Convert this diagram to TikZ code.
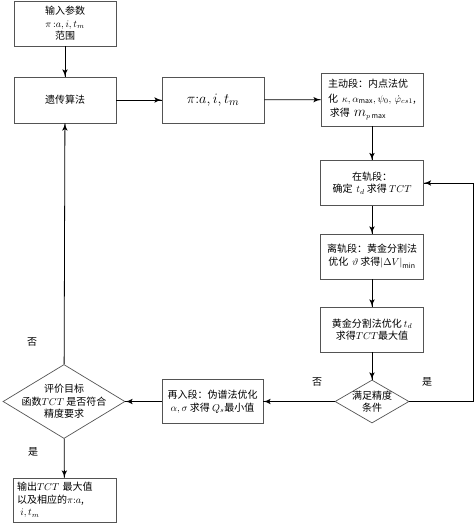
\documentclass[tikz,border=0pt]{standalone}
\usepackage{amsmath}
\usepackage{fontspec}
\setmainfont{Noto Sans CJK SC}
\usepackage{tikz}
\usetikzlibrary{arrows}
\usetikzlibrary{decorations.markings}
\usetikzlibrary{shapes.geometric}
\tikzset{->/.style = {decoration={markings,
                                  mark=at position 1 with {\arrow[scale=1.4]{latex'}}},
                      postaction={decorate}}}
\tikzset{stage/.style = {draw=frame, line width=0.7pt, align=center, inner sep=1pt}}
\tikzset{decision/.style = {shape=diamond, draw=frame, line width=0.7pt, inner sep=0pt}}
\definecolor{frame}{rgb}{0.33, 0.33, 0.33}

\begin{document}
\begin{tikzpicture}[x=1pt, y=-1pt, font=\fontsize{10}{12.5}\selectfont, line width=0.8pt]
      \useasboundingbox (0, 0) rectangle (474, 526);

      \node [stage, minimum width=102, minimum height=45] (input) at (65, 23.5)
            {输入参数\\$\pi\,{:}a,i,t_m$\\范围};
      \node [stage, minimum width=102, minimum height=46] (ga) at (65, 100) {遗传算法};
      \node [stage, minimum width=102, minimum height=46, font=\fontsize{15}{18}\selectfont]
            (params) at (213, 100) {$\pi{:}a,i,t_m$};
      \node [stage, minimum width=102, minimum height=53, align=left,
             font=\fontsize{10}{14.5}\selectfont] (ascent) at (372, 99.5)
            {主动段：内点法优\\化\, $\kappa,\alpha_{\max},\psi_0,\,\dot{\varphi}_{cs1}$,\\
             \,求得\, $\text{\Large$m$}_{p\max}$};
      \node [stage, minimum width=103, minimum height=45] (orbit) at (372, 183)
            {在轨段：\\确定\, $t_d$ 求得 $TCT$};
      \node [stage, minimum width=103, minimum height=45] (deorbit) at (372, 256.5)
            {离轨段：黄金分割法\\优化\, $\vartheta$ 求得$\left|\Delta V\right|_{\min}$};
      \node [stage, minimum width=103, minimum height=45] (golden) at (372, 329.5)
            {黄金分割法优化 $t_d$\\求得$TCT$最大值};
      \node [decision, minimum width=74, minimum height=43,
             label={[align=center]center:满足精度\\条件}] (check) at (372, 401.5) {};
      \node [stage, minimum width=101, minimum height=44] (reentry) at (212.5, 401.5)
            {再入段：伪谱法优化\\$\alpha,\sigma$ 求得 $Q_s$最小值};
      \node [decision, minimum width=122, minimum height=74,
             label={[align=center]center:评价目标\\函数$TCT$ 是否符合\\精度要求}]
            (evaluate) at (64, 401.5) {};
      \node [stage, minimum width=103, minimum height=44, align=left, text width=95]
            (output) at (64.5, 500) {输出$TCT$ 最大值\\以及相应的$\pi{:}a$,\\\ $i,t_m$};

      \draw [->] (input) -- (ga);
      \draw [->] (ga) -- (params);
      \draw [->] (params) -- (ascent);
      \draw [->] (ascent) -- (orbit);
      \draw [->] (orbit) -- (deorbit);
      \draw [->] (deorbit) -- (golden);
      \draw [->] (golden) -- (check);
      \draw [->] (check.east) -- ++(64, 0) |- (orbit.east);
      \draw [->] (check) -- (reentry);
      \draw [->] (reentry) -- (evaluate);
      \draw [->] (evaluate) -- (ga);
      \draw [->] (evaluate) -- (output);

      \node (yesloop) at (427, 382) {是};
      \node (noloop) at (317, 382) {否};
      \node (noback) at (32, 342) {否};
      \node (yesout) at (33, 452) {是};
    \end{tikzpicture}
\end{document}
